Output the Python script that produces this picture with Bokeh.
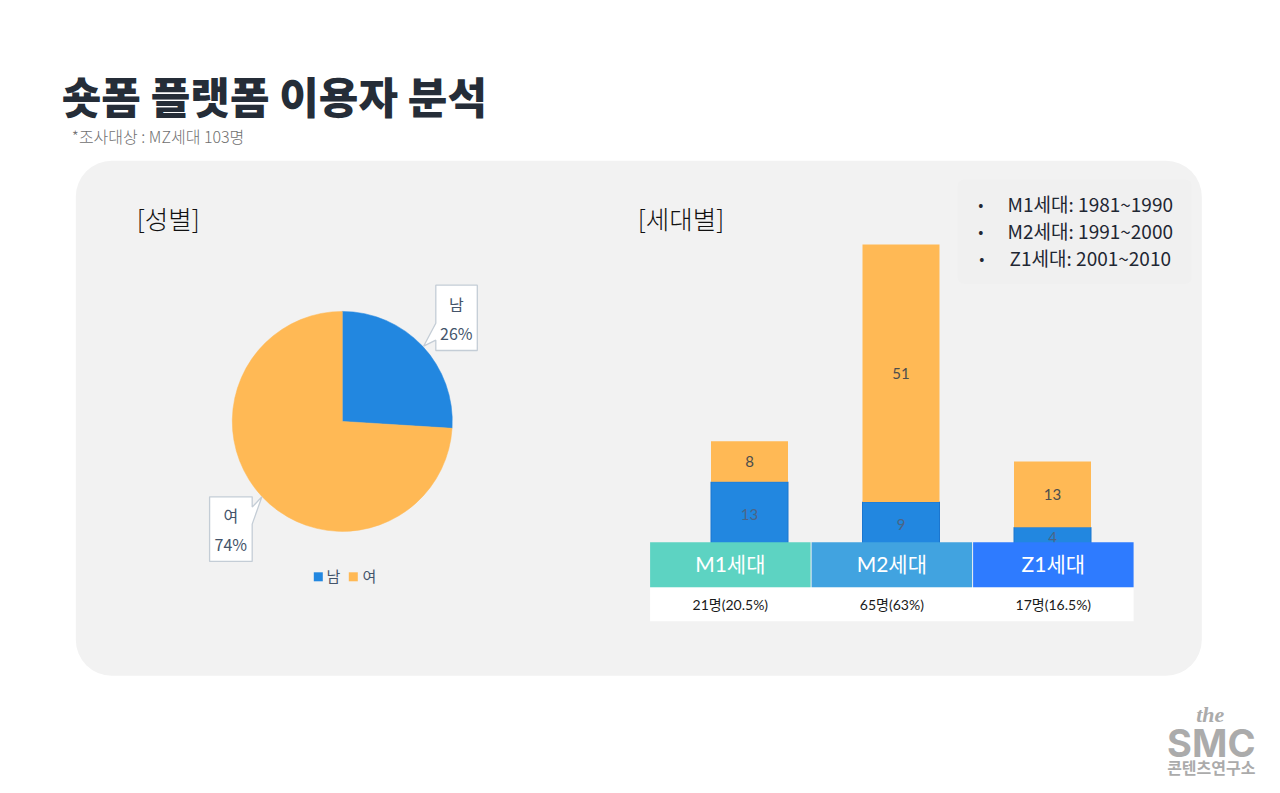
import numpy as np
from bokeh.plotting import figure
from bokeh.models import Range1d
from bokeh.core.properties import value
from bokeh.embed import file_html
from bokeh.resources import INLINE

# ---- data ----
title = "숏폼 플랫폼 이용자 분석"
subtitle = "*조사대상 : MZ세대 103명"
pie_heading = "[성별]"
bar_heading = "[세대별]"
genders = ["남", "여"]
gender_share = [26, 74]
generations = ["M1세대", "M2세대", "Z1세대"]
male_counts = [13, 9, 4]
female_counts = [8, 51, 13]
generation_totals = ["21명(20.5%)", "65명(63%)", "17명(16.5%)"]
generation_years = ["M1세대: 1981~1990", "M2세대: 1991~2000", "Z1세대: 2001~2010"]

BLUE, ORANGE = "#2287E0", "#FFB955"
HEADER_COLORS = ["#5DD3C2", "#41A3E0", "#2E7BFF"]
KR = "Noto Sans CJK KR"
KR_LIGHT = "'Noto Sans CJK KR Light', 'Noto Sans CJK KR'"
KR_BLACK = "'Noto Sans CJK KR Black', 'Noto Sans CJK KR'"
GEO = "Lato, 'Noto Sans CJK KR'"
H = 793
W_FIG, H_FIG = 1264, 785
SHIFT = 0.7


def Y(py):
    return H - np.asarray(py, dtype=float)


p = figure(width=W_FIG, height=H_FIG, output_backend="svg", toolbar_location=None,
           x_axis_type=None, y_axis_type=None,
           x_range=Range1d(SHIFT, W_FIG + SHIFT), y_range=Range1d(H - H_FIG - SHIFT, H - SHIFT),
           min_border=0, outline_line_color=None, background_fill_color="white",
           border_fill_color="white")
p.grid.visible = False

# bar scales: baseline at 547.6 px, 5.05 px per person; bars 151.5 px apart
PX_PER_COUNT, BASE = 5.05, 547.6
PX_PER_CAT, FIRST = 151.5, 749.7
p.extra_y_ranges = {"count": Range1d((BASE - H_FIG - SHIFT) / PX_PER_COUNT, (BASE - SHIFT) / PX_PER_COUNT)}
p.extra_x_ranges = {"gen": Range1d((SHIFT - FIRST) / PX_PER_CAT, (W_FIG + SHIFT - FIRST) / PX_PER_CAT)}


def label(x, py, s, size, color="#222222", font=KR, style="normal", align="center"):
    p.text([x], Y([py]), text=[s], text_font=value(font), text_font_size=f"{size}px",
           text_color=color, text_font_style=style, text_align=align,
           text_baseline="middle")


# panel + info box
p.quad(left=76, right=1202, top=Y(161), bottom=Y(676), fill_color="#F2F2F2",
       line_color=None, border_radius=36)
p.quad(left=958, right=1192, top=Y(180), bottom=Y(284), fill_color="#F0F0F0",
       line_color=None, border_radius=6)

# headings
label(62, 95, title, 43, "#252D38", font=KR_BLACK, align="left")
label(72, 136.5, subtitle, 16, "#707070", font=KR_LIGHT, align="left")
label(137, 217.5, pie_heading, 25.5, "#111111", font=KR_LIGHT, align="left")
label(638, 217.5, bar_heading, 25.5, "#111111", font=KR_LIGHT, align="left")

# info box lines
for py, s in zip([203.5, 230.5, 257.5], generation_years):
    label(1090.5, py, s, 19, "#1F2733")
for py, x in zip([204, 231, 258], [981, 981, 982]):
    label(x, py, "•", 15, "#1F2733")

# pie
CX, CY, R = 342.5, 421.6, 110
fractions = np.asarray(gender_share, dtype=float) / sum(gender_share)
edges = np.pi / 2 - 2 * np.pi * np.concatenate([[0], np.cumsum(fractions)])
for i, color in enumerate([BLUE, ORANGE]):
    p.wedge(x=CX, y=Y(CY), radius=R, radius_units="screen",
            start_angle=edges[i + 1], end_angle=edges[i],
            fill_color=color, line_color=color, line_width=0.5)

# callouts
CALLOUTS = [
    ([436, 477.5, 477.5, 436, 436, 423.8, 436], [285.4, 285.4, 350.7, 350.7, 340.4, 346.4, 323.4], 456.5),
    ([209.8, 252.4, 252.4, 262.1, 252.4, 252.4, 209.8], [497, 497, 507.3, 497, 524.3, 561.6, 561.6], 231),
]
for (xs, ys, cx), g, v in zip(CALLOUTS, genders, gender_share):
    p.patch(xs, Y(ys), fill_color="white", line_color="#C4CDD6", line_width=1.3)
    top = min(ys)
    label(cx, top + 18.5, g, 16, "#44546A")
    label(cx, top + 47.5, f"{v}%", 16, "#44546A")

# pie legend
for x, c, g, tx in zip([319, 354], [BLUE, ORANGE], genders, [333.5, 369.5]):
    p.quad(left=x - 5, right=x + 4, top=Y(572.5), bottom=Y(581.5), fill_color=c, line_color=None)
    label(tx, 575.5, g, 15, "#44546A")

# stacked bars
idx = np.arange(len(generations))
male = np.array(male_counts, dtype=float)
female = np.array(female_counts, dtype=float)
bar_w = 77 / PX_PER_CAT
p.vbar(x=idx, width=bar_w, bottom=0, top=male, fill_color=BLUE, line_color="#1B76CF",
       line_width=1, x_range_name="gen", y_range_name="count")
p.vbar(x=idx, width=bar_w, bottom=male, top=male + female, fill_color=ORANGE, line_color=None,
       x_range_name="gen", y_range_name="count")
p.text(x=idx, y=male / 2, text=[str(v) for v in male_counts], text_font=value(GEO),
       text_font_size="15px", text_color="#4A6587", text_align="center", text_baseline="middle",
       x_range_name="gen", y_range_name="count")
p.text(x=idx, y=male + female / 2, text=[str(v) for v in female_counts], text_font=value(GEO),
       text_font_size="15px", text_color="#4D4D4D", text_align="center", text_baseline="middle",
       x_range_name="gen", y_range_name="count")

# generation table
p.quad(left=650.3, right=1133.8, top=Y(587.4), bottom=Y(621.4), fill_color="white", line_color=None)
lefts, rights = [650.3, 811.8, 973.3], [810.8, 972.3, 1133.8]
for l, r, c, g, t in zip(lefts, rights, HEADER_COLORS, generations, generation_totals):
    p.quad(left=l, right=r, top=Y(542.4), bottom=Y(587.4), fill_color=c, line_color=None)
    label((l + r) / 2, 564, g, 21, "white", font=GEO)
    label((l + r) / 2, 605, t, 14, "#1A1A1A", font=GEO)

# logo
label(1210.5, 715, "the", 22, "#ABABAB", font="Liberation Serif", style="bold italic")
label(1211.5, 743, "SMC", 38, "#ABABAB", font="Inter", style="bold")
label(1211.5, 767, "콘텐츠연구소", 16, "#ABABAB", style="bold")

open("out.html", "w").write(file_html(p, INLINE))
